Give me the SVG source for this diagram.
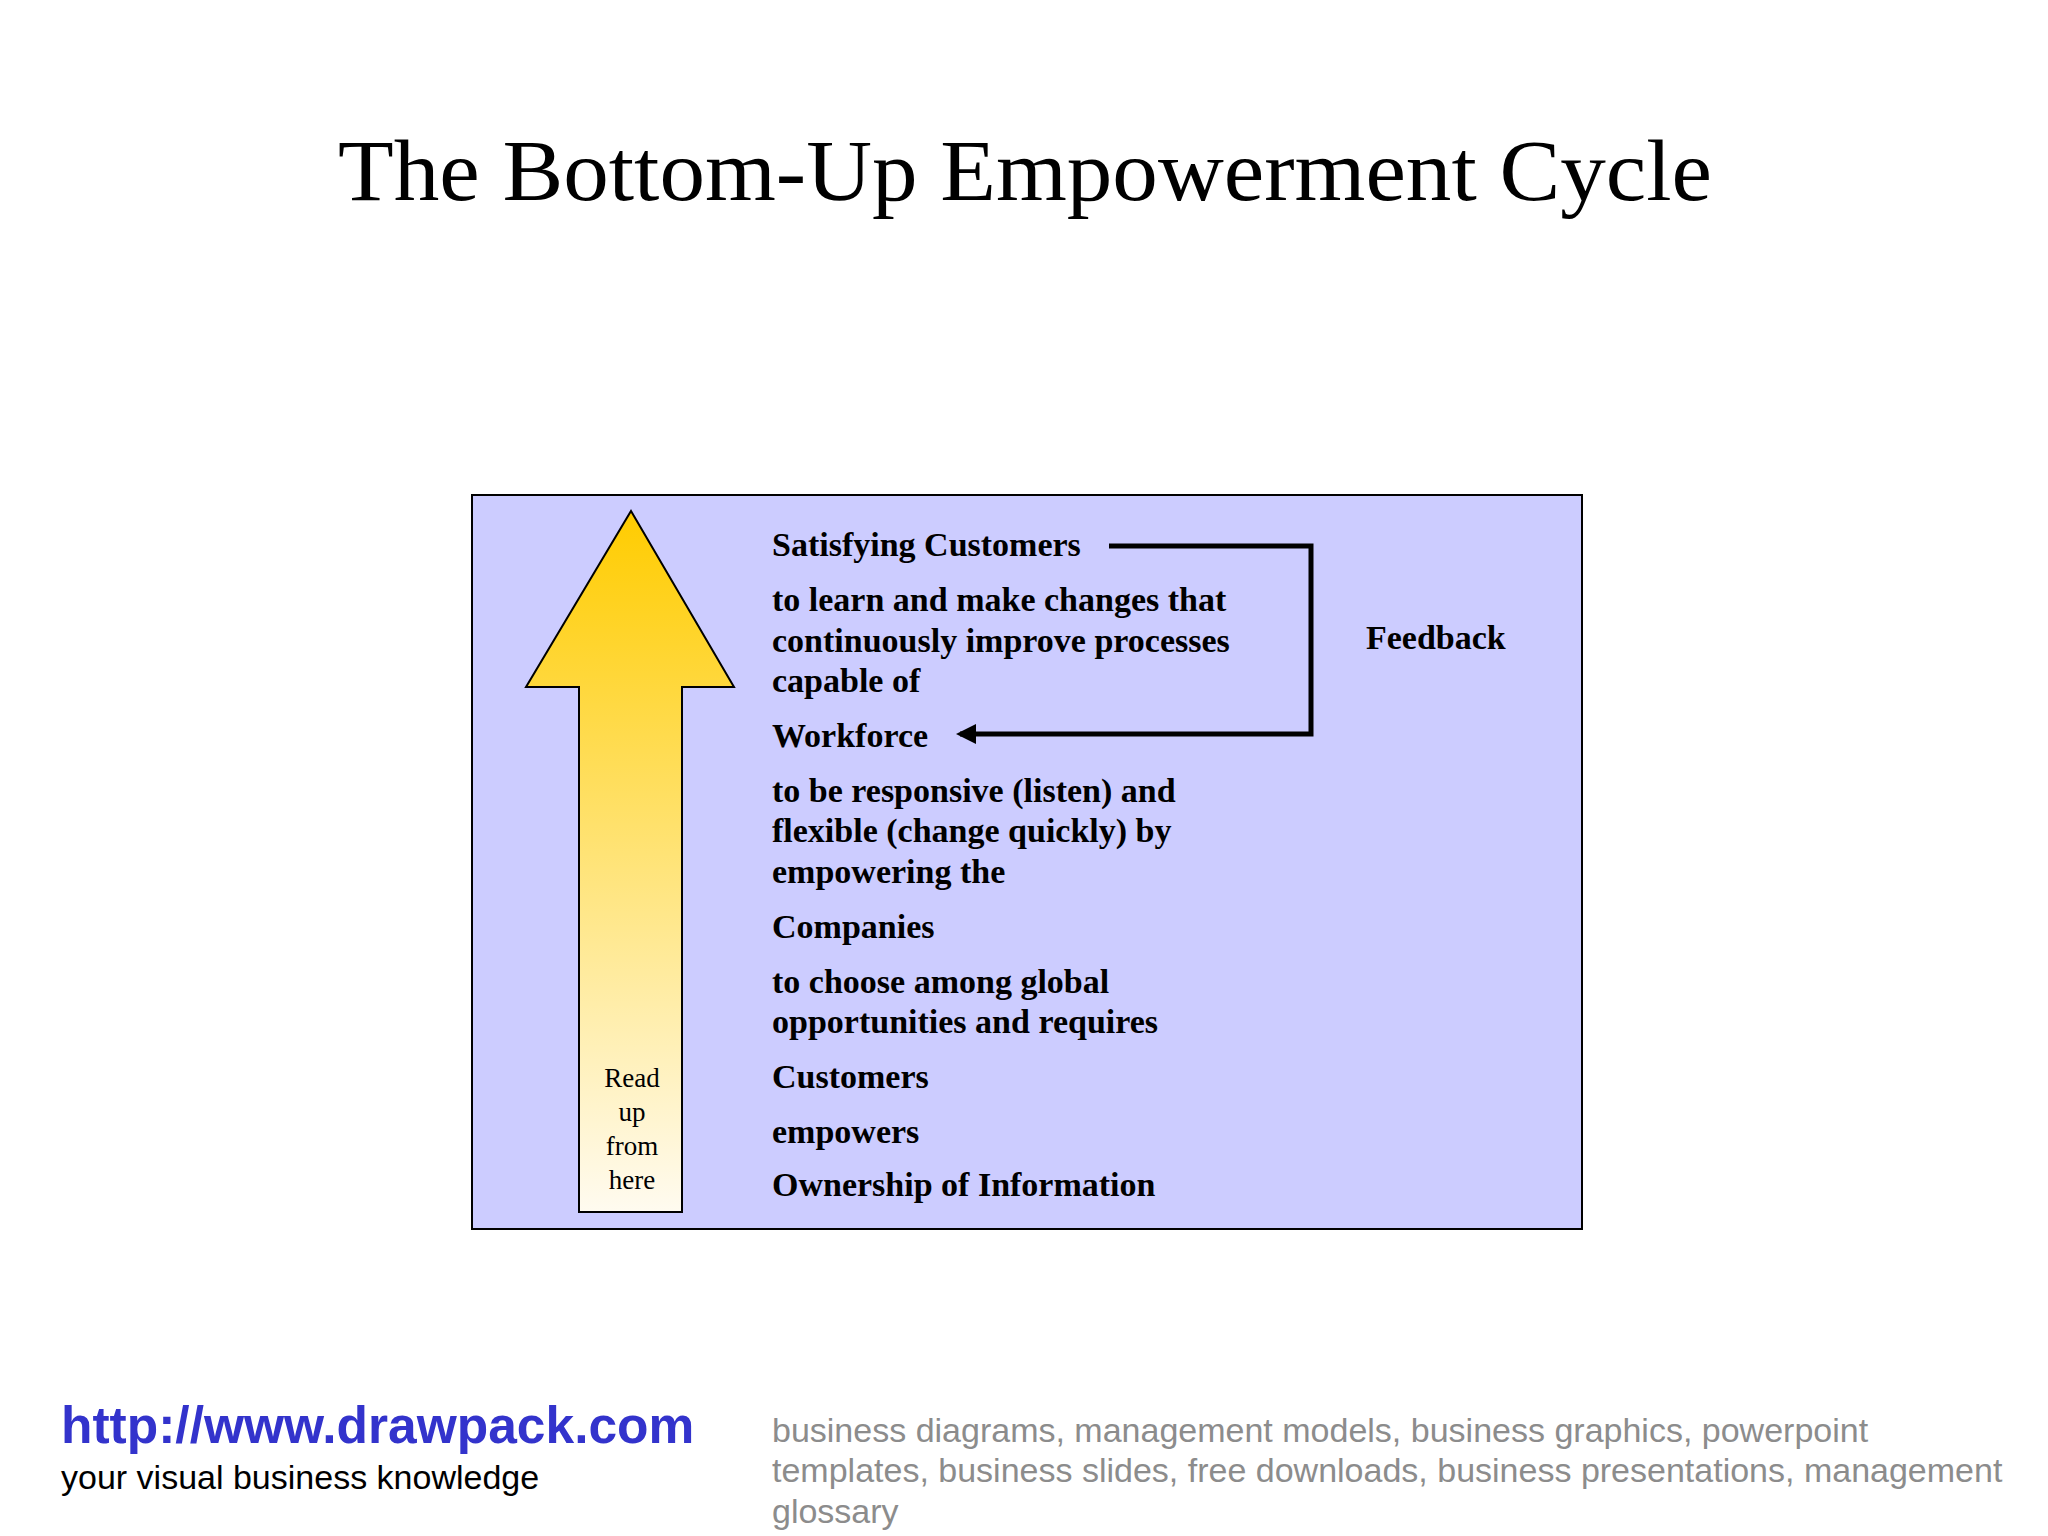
<svg xmlns="http://www.w3.org/2000/svg" width="2048" height="1536" viewBox="0 0 2048 1536">
<defs>
<linearGradient id="g" x1="0" y1="0" x2="0" y2="1">
<stop offset="0" stop-color="#ffcc00"/>
<stop offset="1" stop-color="#fffbf0"/>
</linearGradient>
<marker id="ah" viewBox="0 0 10 10" refX="8" refY="5" markerWidth="4" markerHeight="4" orient="auto" markerUnits="strokeWidth">
<path d="M0,0 L10,5 L0,10 Z" fill="#000"/>
</marker>
<style>
.t{font-family:"Liberation Serif",serif;font-weight:bold;font-size:34px;fill:#000}
.r{font-family:"Liberation Serif",serif;font-size:27px;fill:#000;text-anchor:middle}
.g{font-family:"Liberation Sans",sans-serif;font-size:34px;fill:#8c8c8c}
</style>
</defs>
<rect width="2048" height="1536" fill="#fff"/>
<text x="338" y="200" textLength="1374" lengthAdjust="spacingAndGlyphs" font-family="Liberation Serif,serif" font-size="86">The Bottom-Up Empowerment Cycle</text>
<g id="panel"><rect x="472" y="495" width="1110" height="734" fill="#ccccff" stroke="#000" stroke-width="2"/></g>
<g id="arrow">
<polygon points="631,511 734,687 682,687 682,1212 579,1212 579,687 526,687" fill="url(#g)" stroke="#000" stroke-width="2"/>
<text class="r" x="632" y="1087">Read</text>
<text class="r" x="632" y="1121">up</text>
<text class="r" x="632" y="1155">from</text>
<text class="r" x="632" y="1189">here</text>
</g>
<g id="labels">
<text class="t" x="772" y="556">Satisfying Customers</text>
<text class="t" x="772" y="611">to learn and make changes that</text>
<text class="t" x="772" y="652">continuously improve processes</text>
<text class="t" x="772" y="692">capable of</text>
<text class="t" x="772" y="747">Workforce</text>
<text class="t" x="772" y="802">to be responsive (listen) and</text>
<text class="t" x="772" y="842">flexible (change quickly) by</text>
<text class="t" x="772" y="883">empowering the</text>
<text class="t" x="772" y="938">Companies</text>
<text class="t" x="772" y="993">to choose among global</text>
<text class="t" x="772" y="1033">opportunities and requires</text>
<text class="t" x="772" y="1088">Customers</text>
<text class="t" x="772" y="1143">empowers</text>
<text class="t" x="772" y="1196">Ownership of Information</text>
<text class="t" x="1366" y="649">Feedback</text>
</g>
<g id="connectors">
<polyline points="1109,546 1311,546 1311,734 960,734" fill="none" stroke="#000" stroke-width="5" marker-end="url(#ah)"/>
</g>
<g id="footer">
<text x="61" y="1443" font-family="Liberation Sans,sans-serif" font-weight="bold" font-size="51.5" fill="#3333cc">http://www.drawpack.com</text>
<text x="61" y="1489" font-family="Liberation Sans,sans-serif" font-size="34" fill="#000">your visual business knowledge</text>
<text class="g" x="772" y="1442">business diagrams, management models, business graphics, powerpoint</text>
<text class="g" x="772" y="1482">templates, business slides, free downloads, business presentations, management</text>
<text class="g" x="772" y="1523">glossary</text>
</g>
</svg>
